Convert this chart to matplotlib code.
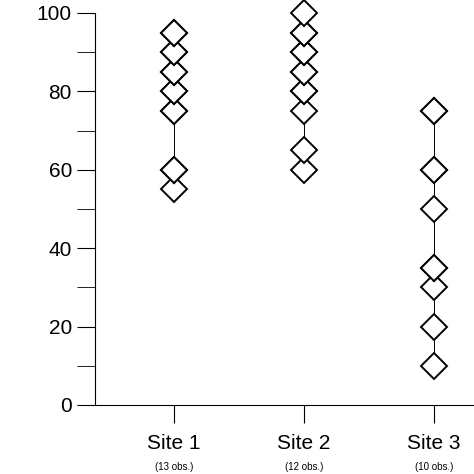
import matplotlib
matplotlib.use("Agg")
import matplotlib.pyplot as plt

plt.rcParams['font.family'] = ['Liberation Sans', 'DejaVu Sans']

sites = ["Site 1", "Site 2", "Site 3"]
counts = ["(13 obs.)", "(12 obs.)", "(10 obs.)"]
site1 = [55, 60, 60, 75, 75, 80, 80, 85, 85, 90, 90, 95, 95]
site2 = [60, 65, 75, 80, 80, 85, 85, 90, 90, 95, 95, 100]
site3 = [10, 20, 30, 35, 35, 50, 60, 60, 75, 75]
data = [site1, site2, site3]

fig = plt.figure(figsize=(4.74, 4.74), dpi=100)
ax = fig.add_axes([0.2, 0.1456, 0.8, 0.827])
for i, vals in enumerate(data, start=1):
    ax.plot([i, i], [min(vals), max(vals)], color='black', lw=0.7, zorder=1)
    ax.plot([i]*len(vals), vals, linestyle='none', marker='D', markersize=13,
            markerfacecolor='white', markeredgecolor='black', markeredgewidth=1.4,
            zorder=2, clip_on=False)

ax.set_xlim(0.392, 3.308)
ax.set_ylim(0, 100)
ax.set_yticks(range(0, 101, 20))
ax.set_yticks(range(10, 100, 20), minor=True)
ax.set_xticks([1, 2, 3])
ax.set_xticklabels(sites, fontsize=15)
ax.tick_params(axis='both', labelsize=15, length=13, direction='out')
ax.tick_params(axis='y', which='minor', length=13)
ax.tick_params(axis='x', pad=8)
for s in ['top', 'right']:
    ax.spines[s].set_visible(False)
for i, c in enumerate(counts, start=1):
    ax.annotate(c, xy=(i, 0), xycoords=('data', 'axes fraction'), xytext=(0, -45),
                textcoords='offset points', ha='center', va='center', fontsize=7,
                annotation_clip=False)
fig.savefig("out.png", dpi=100)
